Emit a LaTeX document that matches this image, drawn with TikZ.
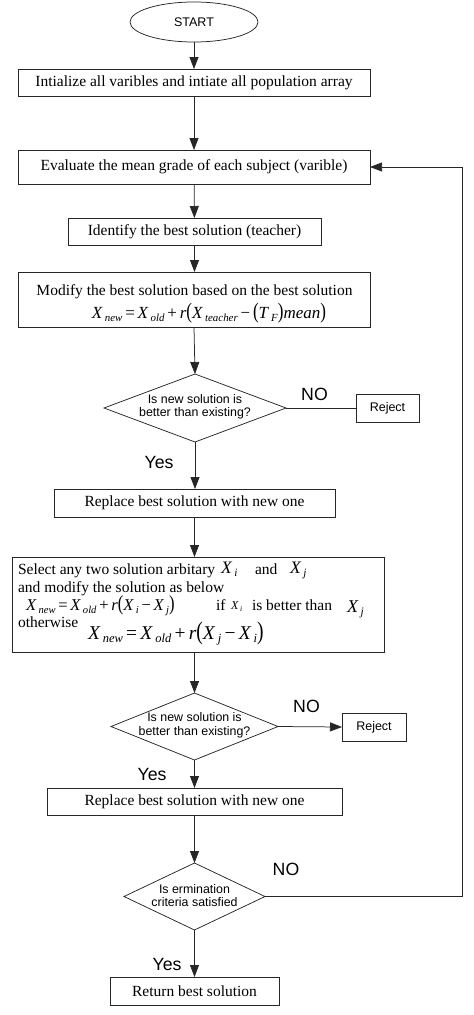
\documentclass[tikz,border=0pt]{standalone}
\usepackage{fontspec}
\usepackage{graphicx}
\setmainfont{Liberation Serif}
\setsansfont{Liberation Sans}
\usetikzlibrary{shapes.geometric,arrows.meta}
\newcommand{\vx}[2]{\textit{#1}\kern0.12em\raisebox{-0.4ex}{\scalebox{0.64}{\textit{#2}}}}
\newcommand{\bpar}[1]{\scalebox{1}[1.3]{#1}}
\begin{document}
\begin{tikzpicture}[x=1pt,y=-1pt,
  every node/.style={outer sep=0pt},
  box/.style={draw=black!85, line width=0.75pt, inner sep=0pt, font=\fontsize{15.5pt}{18pt}\selectfont},
  txt/.style={inner sep=0pt, font=\fontsize{15.5pt}{18pt}\selectfont},
  sbox/.style={draw=black!85, line width=0.75pt, inner sep=0pt, font=\sffamily\fontsize{12.5pt}{14pt}\selectfont},
  dia/.style={draw=black!85, line width=0.75pt, diamond, inner sep=0pt},
  dtxt/.style={font=\sffamily\fontsize{12.4pt}{13.5pt}\selectfont, align=center},
  lab/.style={inner sep=0pt, anchor=base, font=\sffamily\fontsize{17.7pt}{20pt}\selectfont},
  conn/.style={draw=black!85, line width=0.75pt},
  arr/.style={conn, -{Triangle[length=12pt,width=9pt]}}]
\useasboundingbox (0,0) rectangle (474,1015);

% nodes
\node[sbox, ellipse, minimum width=128pt, minimum height=40pt] (start) at (194,22) {START};
\node[box, minimum width=352pt, minimum height=27pt] (b1) at (194,82.5) {Intialize all varibles and intiate all population array};
\node[box, minimum width=352pt, minimum height=34pt] (b2) at (194,167) {Evaluate the mean grade of each subject (varible)};
\node[box, minimum width=253pt, minimum height=27pt] (b3) at (194.5,231.5) {Identify the best solution (teacher)};
\node[box, minimum width=352pt, minimum height=55pt] (b4) at (194,299.5) {};
\node[txt, anchor=base] (b4a) at (194.5,295) {Modify the best solution based on the best solution};
\node[txt, anchor=base] (b4b) at (209,318) {\fontsize{17pt}{18pt}\selectfont\vx{X}{new}\,=\,\vx{X}{old}\,+\,\textit{r}\bpar{(}\vx{X}{teacher}\,−\,\bpar{(}\vx{T}{F}\bpar{)}\textit{mean}\bpar{)}};

\node[dia, minimum width=182pt, minimum height=68pt] (d1) at (195,408) {};
\node[dtxt] (d1t) at (195,407) {Is new solution is\\better than existing?};
\node[sbox, minimum width=63pt, minimum height=28pt] (r1) at (387.5,408) {Reject};
\node[box, minimum width=281pt, minimum height=28pt] (b5) at (194.5,503) {Replace best solution with new one};

\node[box, minimum width=372pt, minimum height=95pt] (b6) at (198,604.5) {};
\node[txt, anchor=base west] (b6a) at (18,574) {Select any two solution arbitary};
\node[txt, anchor=base west] (b6b) at (221,573) {\fontsize{17.5pt}{18pt}\selectfont\vx{X}{i}};
\node[txt, anchor=base west] (b6c) at (255,574) {and};
\node[txt, anchor=base west] (b6d) at (290,573) {\fontsize{17.5pt}{18pt}\selectfont\vx{X}{j}};
\node[txt, anchor=base west] (b6e) at (18,592) {and modify the solution as below};
\node[txt, anchor=base west] (b6f) at (26,610) {\fontsize{16.5pt}{16pt}\selectfont\vx{X}{new}\,=\,\vx{X}{old}\,+\,\textit{r}\bpar{(}\vx{X}{i}\,−\,\vx{X}{j}\bpar{)}};
\node[txt, anchor=base west] (b6g) at (216,610) {if};
\node[txt, anchor=base west] (b6h) at (231,609) {\fontsize{12pt}{12pt}\selectfont\vx{X}{i}};
\node[txt, anchor=base west] (b6i) at (252,610) {is better than};
\node[txt, anchor=base west] (b6j) at (347,612) {\fontsize{18pt}{18pt}\selectfont\vx{X}{j}};
\node[txt, anchor=base west] (b6k) at (18,627) {otherwise};
\node[txt, anchor=base west] (b6l) at (88,639) {\fontsize{19.5pt}{20pt}\selectfont\vx{X}{new}\,=\,\vx{X}{old}\,+\,\textit{r}\bpar{(}\vx{X}{j}\,−\,\vx{X}{i}\bpar{)}};

\node[dia, minimum width=167pt, minimum height=67pt] (d2) at (194.5,726.5) {};
\node[dtxt] (d2t) at (194.5,725.5) {Is new solution is\\better than existing?};
\node[sbox, minimum width=64pt, minimum height=28pt] (r2) at (374,727) {Reject};
\node[box, minimum width=295pt, minimum height=27pt] (b7) at (194.5,801.5) {Replace best solution with new one};

\node[dia, minimum width=141pt, minimum height=67pt] (d3) at (194.5,896.5) {};
\node[dtxt] (d3t) at (194.5,895.5) {Is ermination\\criteria satisfied};
\node[box, minimum width=169pt, minimum height=28pt] (b8) at (194.5,991) {Return best solution};

% labels
\node[lab] (no1) at (314.5,400) {NO};
\node[lab] (yes1) at (159,468) {Yes};
\node[lab] (no2) at (306.5,712) {NO};
\node[lab] (yes2) at (152,780) {Yes};
\node[lab] (no3) at (286,875) {NO};
\node[lab] (yes3) at (167,970) {Yes};

% connectors
\draw[arr] (start) -- (b1);
\draw[arr] (b1) -- (b2);
\draw[arr] (b2) -- (b3);
\draw[arr] (b3.south) -- (b3.south |- b4.north);
\draw[arr] (b4.south) -- (d1.north);
\draw[conn] (d1.east) -- (r1.west);
\draw[arr] (d1.south) -- (d1.south |- b5.north);
\draw[arr] (b5.south) -- (b5.south |- b6.north);
\draw[arr] (d2.north |- b6.south) -- (d2.north);
\draw[arr] (d2.east) -- (r2.west);
\draw[arr] (d2.south) -- (d2.south |- b7.north);
\draw[arr] (b7.south) -- (d3.north);
\coordinate (loop) at (462,896.5);
\draw[arr] (d3.east) -- (loop) |- (b2.east);
\draw[arr] (d3.south) -- (b8.north);
\end{tikzpicture}
\end{document}
